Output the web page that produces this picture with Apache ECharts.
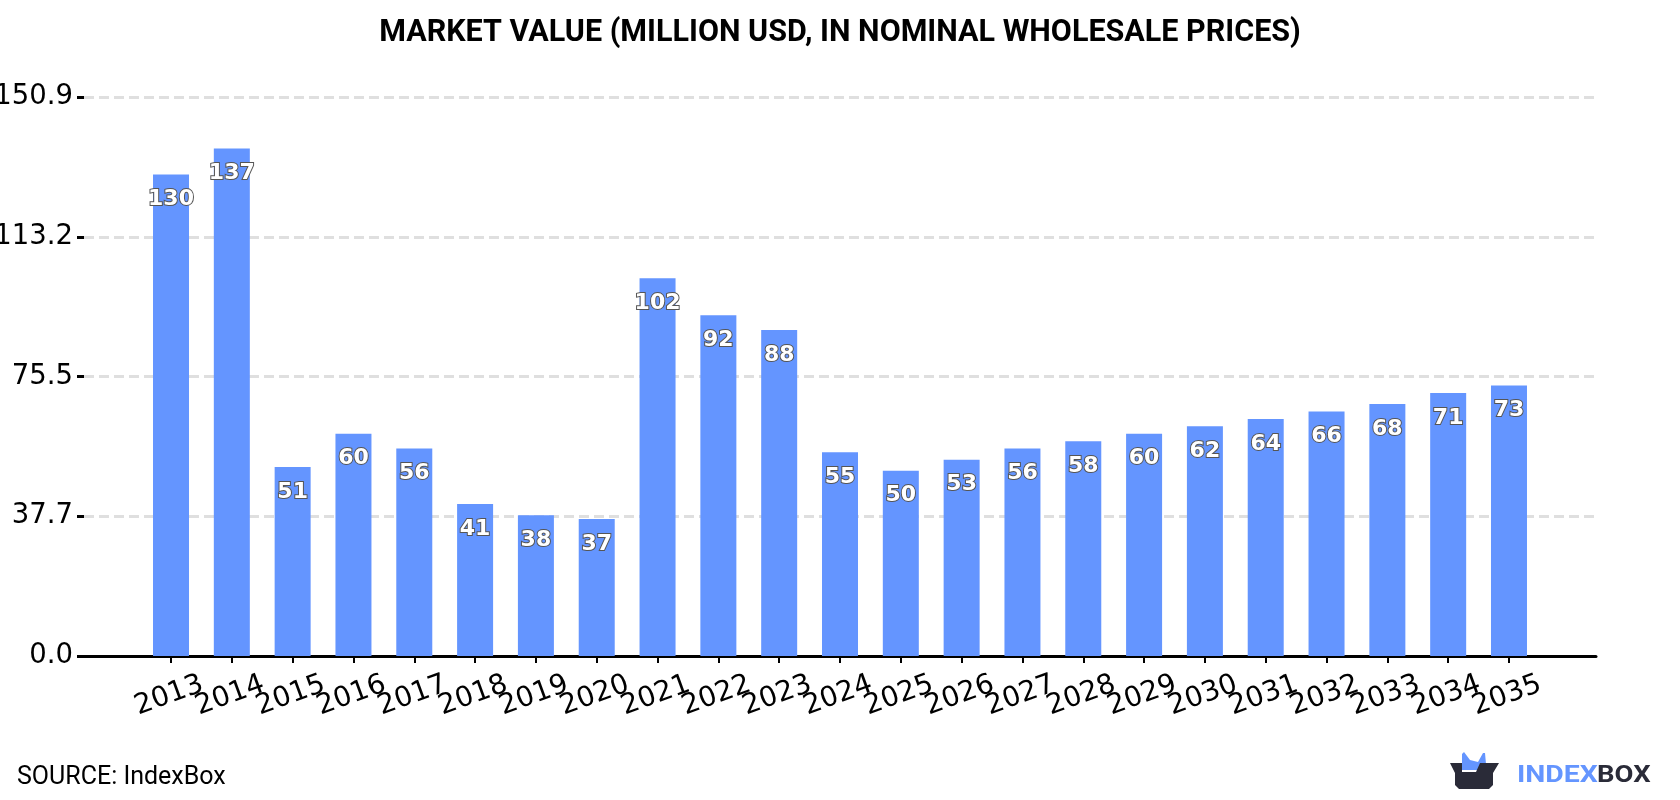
<!DOCTYPE html>
<html>
<head>
<meta charset="utf-8">
<style>html,body{margin:0;padding:0;background:#fff}#chart{width:1680px;height:800px}</style>
<script src="https://cdn.jsdelivr.net/npm/echarts@6/dist/echarts.min.js"></script>
</head>
<body>
<div id="chart"></div>
<script>
const years = ['2013','2014','2015','2016','2017','2018','2019','2020','2021','2022','2023','2024','2025','2026','2027','2028','2029','2030','2031','2032','2033','2034','2035'];
const marketValue = [130,137,51,60,56,41,38,37,102,92,88,55,50,53,56,58,60,62,64,66,68,71,73];
const yTicks = [0,37.725,75.45,113.175,150.9];
const chartTitle = 'MARKET VALUE (MILLION USD, IN NOMINAL WHOLESALE PRICES)';
const sourceText = 'SOURCE: IndexBox';
const yMax = 150.9;

const chart = echarts.init(document.getElementById('chart'), null, {renderer:'canvas'});
chart.setOption({
  animation:false,
  backgroundColor:'#fff',
  title:{text:chartTitle,left:'center',top:13,textStyle:{fontFamily:'Roboto',fontWeight:'bold',fontSize:30.5,color:'#000'}},
  // Outer grid carries the y scale, gridlines and the long baseline; inner grid carries the bars.
  grid:[
    {left:84,right:84,top:97,bottom:144,outerBoundsMode:'none'},
    {left:140.6,right:140.6,top:97,bottom:144,outerBoundsMode:'none'}
  ],
  xAxis:[
    {gridIndex:0,type:'value',min:0,max:1,
     splitLine:{show:false},axisTick:{show:false},axisLabel:{show:false},
     axisLine:{show:true,lineStyle:{color:'#000',width:3}}},
    {gridIndex:1,type:'category',data:years,
     axisLine:{show:false},
     axisTick:{show:true,alignWithLabel:true,interval:0,length:7,lineStyle:{color:'#000',width:2}},
     axisLabel:{interval:0,rotate:20,margin:39,align:'center',verticalAlign:'middle',padding:[0,4,0,0],
       fontFamily:'DejaVu Sans',fontSize:28,color:'#000'}}
  ],
  yAxis:[
    {gridIndex:0,type:'value',min:0,max:yMax,
     axisLine:{show:false},
     axisTick:{show:true,customValues:yTicks,length:7,lineStyle:{color:'#000',width:3}},
     axisLabel:{customValues:yTicks,margin:11,padding:[4,0,0,0],fontFamily:'DejaVu Sans',fontSize:27.5,color:'#000',formatter:v=>v.toFixed(1)},
     splitLine:{show:true,showMinLine:false,lineStyle:{color:'#dfdfdf',width:3,type:[10,5]}}},
    {gridIndex:1,type:'value',min:0,max:yMax,show:false,splitLine:{show:false}}
  ],
  series:[{
    type:'bar',xAxisIndex:1,yAxisIndex:1,barWidth:36,
    data:marketValue,
    itemStyle:{color:'#6495ff'},
    label:{show:true,position:'insideTop',distance:14,
      fontFamily:'DejaVu Sans',fontWeight:'bold',fontSize:22,color:'#fff',textBorderColor:'#555',textBorderWidth:2}
  }],
  graphic:[
    {type:'text',left:17,top:765,style:{text:sourceText,fontFamily:'Roboto',fontSize:25,fill:'#000'}},
    {type:'polygon',shape:{points:[[1462,754],[1464,752],[1470,760],[1478,762],[1483,753],[1485,753],[1486,764],[1486,770],[1462,770]]},style:{fill:'#6495ff'}},
    {type:'polygon',shape:{points:[[1450,763],[1462,763],[1462,772],[1476,772],[1480,763],[1499,763],[1493,773],[1493,785],[1489,789],[1459,789],[1455,785],[1455,773]]},style:{fill:'#2a2b38'}},
    {type:'text',x:1517,y:763,scaleX:1.16,style:{text:'INDEX',fontFamily:'Roboto',fontWeight:'bold',fontSize:24.5,fill:'#6495ff'}},
    {type:'text',x:1597,y:763,scaleX:1.12,style:{text:'BOX',fontFamily:'Roboto',fontWeight:'bold',fontSize:24.5,fill:'#2a2b38'}}
  ]
});
</script>
</body>
</html>
